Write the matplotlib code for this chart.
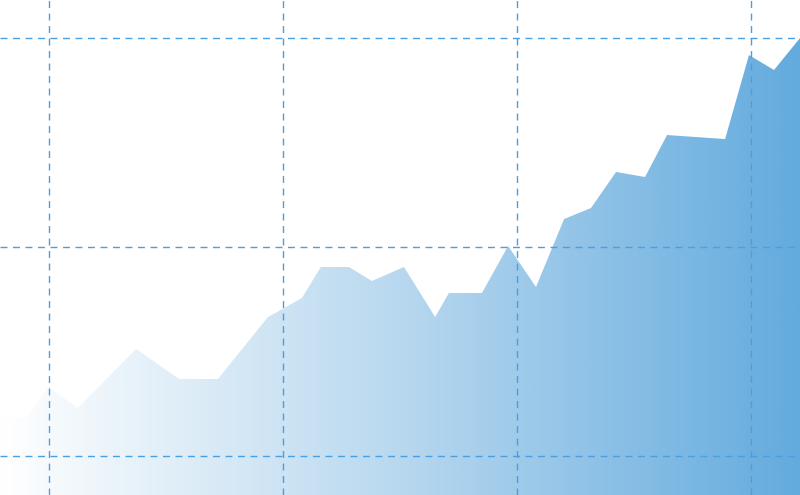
import matplotlib
matplotlib.use("Agg")
import matplotlib.pyplot as plt
import numpy as np
from matplotlib.colors import LinearSegmentedColormap
from matplotlib.patches import Polygon

# series
x = [7.91, 9.06, 9.96, 11.24, 13.72, 15.56, 17.22, 19.36, 20.81, 21.62, 22.82,
     23.80, 25.17, 26.50, 27.09, 28.50, 29.62, 30.81, 32.01, 33.16, 34.23,
     35.47, 36.41, 38.89, 39.91, 40.98, 42.09]
y = [23.64, 23.64, 26.60, 24.59, 30.24, 27.37, 27.37, 33.30, 35.12, 38.09, 38.09,
     36.75, 38.09, 33.30, 35.60, 35.60, 40.10, 36.17, 42.68, 43.73, 47.18,
     46.70, 50.72, 50.33, 58.37, 56.94, 60.00]
xticks = [10, 20, 30, 40]
yticks = [20, 40, 60]

xmin, xmax = 7.91, 42.09
ymin, ymax = 16.27, 63.64

fig = plt.figure(figsize=(8, 4.95), dpi=100)
ax = fig.add_axes([0, 0, 1, 1])
ax.set_xlim(xmin, xmax)
ax.set_ylim(ymin, ymax)

cmap = LinearSegmentedColormap.from_list("fade", ["#ffffff", "#b8d8ef", "#63abde"])
grad = np.linspace(0, 1, 512).reshape(1, -1)
im = ax.imshow(grad, cmap=cmap, aspect="auto", extent=[xmin, xmax, ymin, ymax],
               origin="lower", zorder=1)
verts = list(zip(x, y)) + [(x[-1], ymin), (x[0], ymin)]
poly = Polygon(verts, closed=True, facecolor="none", edgecolor="none")
ax.add_patch(poly)
im.set_clip_path(poly)

for xv in xticks:
    ax.axvline(xv, color="#4a9fe0", lw=1, ls=(0, (5, 4)), zorder=3)
for yv in yticks:
    ax.axhline(yv, color="#4a9fe0", lw=1, ls=(0, (5, 4)), zorder=3)

ax.axis("off")
fig.savefig("out.png", dpi=100)
